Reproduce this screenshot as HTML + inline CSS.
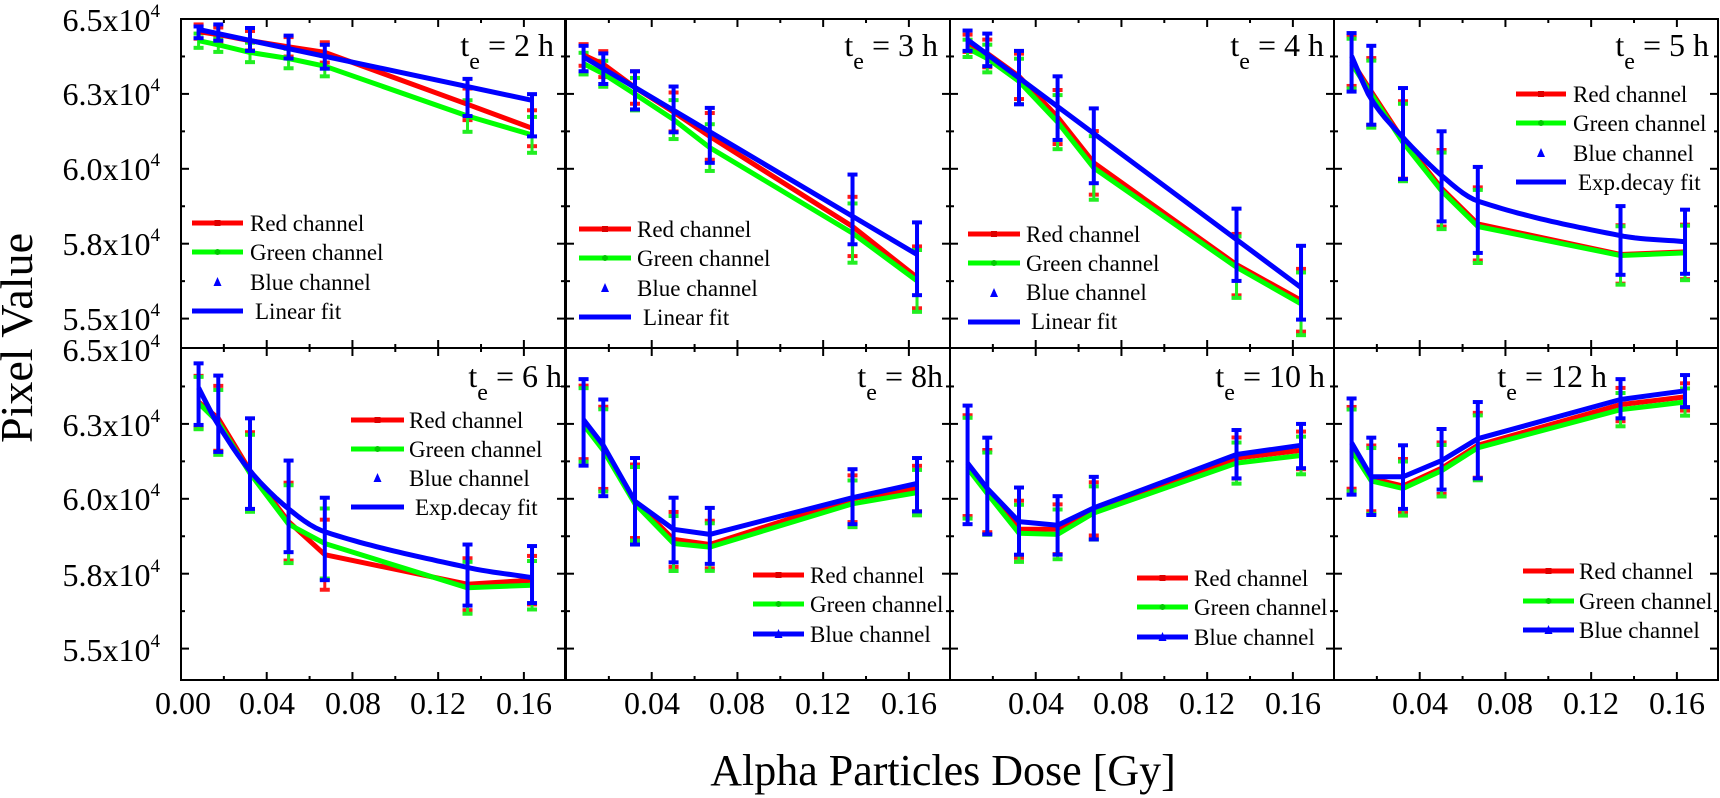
<!DOCTYPE html>
<html><head><meta charset="utf-8">
<style>
html,body{margin:0;padding:0;background:#fff;}
svg{display:block;}
text{font-family:"Liberation Serif","Times New Roman",serif;}
</style></head>
<body>
<svg id="s" width="1720" height="798" viewBox="0 0 1720 798" xmlns="http://www.w3.org/2000/svg" font-family="Liberation Serif, serif">
<g id="data"></g>
<g id="axes" stroke="#000" stroke-width="2" fill="none"></g>
<g font-size="32" fill="#000" text-anchor="end" font-family="Liberation Serif, serif">
<text x="160" y="31">6.5x10<tspan font-size="19" dy="-14">4</tspan></text>
<text x="160" y="105">6.3x10<tspan font-size="19" dy="-14">4</tspan></text>
<text x="160" y="180">6.0x10<tspan font-size="19" dy="-14">4</tspan></text>
<text x="160" y="255">5.8x10<tspan font-size="19" dy="-14">4</tspan></text>
<text x="160" y="330">5.5x10<tspan font-size="19" dy="-14">4</tspan></text>
<text x="160" y="361">6.5x10<tspan font-size="19" dy="-14">4</tspan></text>
<text x="160" y="436">6.3x10<tspan font-size="19" dy="-14">4</tspan></text>
<text x="160" y="510">6.0x10<tspan font-size="19" dy="-14">4</tspan></text>
<text x="160" y="586">5.8x10<tspan font-size="19" dy="-14">4</tspan></text>
<text x="160" y="661">5.5x10<tspan font-size="19" dy="-14">4</tspan></text>
</g>
<g font-size="32" fill="#000" text-anchor="middle" font-family="Liberation Serif, serif">
<text x="183" y="714">0.00</text><text x="267" y="714">0.04</text><text x="353" y="714">0.08</text><text x="438" y="714">0.12</text><text x="524" y="714">0.16</text>
<text x="652" y="714">0.04</text><text x="737" y="714">0.08</text><text x="823" y="714">0.12</text><text x="909" y="714">0.16</text>
<text x="1036" y="714">0.04</text><text x="1121" y="714">0.08</text><text x="1207" y="714">0.12</text><text x="1293" y="714">0.16</text>
<text x="1420" y="714">0.04</text><text x="1505" y="714">0.08</text><text x="1591" y="714">0.12</text><text x="1677" y="714">0.16</text>
</g>
<text x="943" y="785" font-size="44" text-anchor="middle" font-family="Liberation Serif, serif">Alpha Particles Dose [Gy]</text>
<text transform="translate(32,338) rotate(-90)" font-size="46" text-anchor="middle" font-family="Liberation Serif, serif">Pixel Value</text>
<g font-size="32" fill="#000" text-anchor="end" font-family="Liberation Serif, serif">
<text x="554" y="56">t<tspan font-size="24" dy="13">e</tspan><tspan dy="-13"> = 2 h</tspan></text>
<text x="938" y="56">t<tspan font-size="24" dy="13">e</tspan><tspan dy="-13"> = 3 h</tspan></text>
<text x="1324" y="56">t<tspan font-size="24" dy="13">e</tspan><tspan dy="-13"> = 4 h</tspan></text>
<text x="1709" y="56">t<tspan font-size="24" dy="13">e</tspan><tspan dy="-13"> = 5 h</tspan></text>
<text x="562" y="387">t<tspan font-size="24" dy="13">e</tspan><tspan dy="-13"> = 6 h</tspan></text>
<text x="943" y="387">t<tspan font-size="24" dy="13">e</tspan><tspan dy="-13"> = 8h</tspan></text>
<text x="1325" y="387">t<tspan font-size="24" dy="13">e</tspan><tspan dy="-13"> = 10 h</tspan></text>
<text x="1607" y="387">t<tspan font-size="24" dy="13">e</tspan><tspan dy="-13"> = 12 h</tspan></text>
</g>
<g id="leg"></g>
<g font-size="23" fill="#000" font-family="Liberation Serif, serif">
<text x="250" y="231">Red channel</text><text x="250" y="260">Green channel</text><text x="250" y="290">Blue channel</text><text x="255" y="319">Linear fit</text>
<text x="637" y="237">Red channel</text><text x="637" y="266">Green channel</text><text x="637" y="296">Blue channel</text><text x="643" y="325">Linear fit</text>
<text x="1026" y="242">Red channel</text><text x="1026" y="271">Green channel</text><text x="1026" y="300">Blue channel</text><text x="1031" y="329">Linear fit</text>
<text x="1573" y="102">Red channel</text><text x="1573" y="131">Green channel</text><text x="1573" y="161">Blue channel</text><text x="1578" y="190">Exp.decay fit</text>
<text x="409" y="428">Red channel</text><text x="409" y="457">Green channel</text><text x="409" y="486">Blue channel</text><text x="415" y="515">Exp.decay fit</text>
<text x="810" y="583">Red channel</text><text x="810" y="612">Green channel</text><text x="810" y="642">Blue channel</text>
<text x="1194" y="586">Red channel</text><text x="1194" y="615">Green channel</text><text x="1194" y="645">Blue channel</text>
<text x="1579" y="579">Red channel</text><text x="1579" y="609">Green channel</text><text x="1579" y="638">Blue channel</text>
</g>
</svg>
<script>
(function(){
var NS="http://www.w3.org/2000/svg";
function el(parent,name,attrs){var e=document.createElementNS(NS,name);for(var k in attrs)e.setAttribute(k,attrs[k]);parent.appendChild(e);return e;}
var L=[181,566,950,1334],W=384,T=[19,348],B=[348,680];
var axes=document.getElementById('axes');
var sx=2143;
for(var r=0;r<2;r++){
 for(var p=0;p<4;p++){
  var l=L[p],t=T[r],b=B[r],rt=l+W;
  el(axes,'rect',{x:l,y:t,width:W,height:b-t});
  for(var i=1;i<9;i++){var d=i*0.02,x=l+d*sx;if(x>rt-2)continue;var len=(i%2==0)?8:4;
   el(axes,'line',{x1:x,y1:b,x2:x,y2:b-len});el(axes,'line',{x1:x,y1:t,x2:x,y2:t+len});}
  for(var j=0;j<=9;j++){var v=65000-j*1250;var y=t+(65000-v)/10000*299.6+(r?1:0);if(y>b-2||j==0)continue;var len2=(j%2==0)?8:4;
   el(axes,'line',{x1:l,y1:y,x2:l+len2,y2:y});el(axes,'line',{x1:rt,y1:y,x2:rt-len2,y2:y});}
 }
}
var D=[0.0082,0.0174,0.0322,0.0502,0.0671,0.1337,0.1638];
var P=[
{p:0,red:[62,68,80,92,103,205,252],green:[80,88,103,115,130,228,265],fit:'lin',blue:[58,197],bl:[[52,75],[48,80],[55,100],[70,115],[88,135],[155,228],[185,268]]},
{p:1,red:[108,126,172,220,268,445,545],green:[125,145,185,235,290,458,552],fit:'lin',blue:[112,500],bl:[[90,140],[105,165],[140,215],[170,260],[212,320],[343,480],[437,580]]},
{p:2,red:[85,105,150,230,320,520,590],green:[95,115,160,240,330,525,597],fit:'lin',blue:[78,565],bl:[[60,100],[66,130],[100,205],[150,275],[213,360],[410,552],[483,628]]},
{p:3,red:[120,180,275,370,440,500,495],green:[125,185,280,375,445,502,497],fit:'curve',bc:[110,195,270,345,395,463,475],bl:[[65,180],[90,245],[173,352],[258,435],[328,497],[405,540],[412,538]]},
{p:0,red:[790,822,925,1025,1090,1148,1140],green:[792,830,930,1030,1068,1155,1150],fit:'curve',bc:[762,835,925,1000,1045,1115,1135],bl:[[714,835],[738,888],[822,1000],[905,1085],[978,1140],[1070,1190],[1073,1185]]},
{p:1,red:[830,880,985,1060,1070,980,960],green:[835,885,990,1068,1075,990,968],fit:'poly',bc:[825,875,985,1040,1050,978,950],bl:[[745,915],[785,975],[900,1070],[978,1105],[998,1108],[922,1030],[900,1005]]},
{p:2,red:[915,965,1040,1040,1000,900,885],green:[920,970,1048,1050,1008,910,895],fit:'poly',bc:[910,960,1025,1032,998,893,875],bl:[[797,1030],[860,1050],[958,1090],[975,1090],[937,1060],[845,940],[833,920]]},
{p:3,red:[880,940,955,920,875,795,780],green:[885,945,960,925,880,805,790],fit:'poly',bc:[870,937,937,905,862,785,768],bl:[[783,972],[860,1012],[875,1000],[843,962],[790,940],[745,822],[737,800]]}
];
var g=document.getElementById('data');
function Y(z){return z/1.965;}
function X(p,d){return L[p]+d*sx;}
function bar(x,y1,y2,col,w){el(g,'line',{x1:x,y1:y1,x2:x,y2:y2,stroke:col,'stroke-width':w});
 el(g,'line',{x1:x-5,y1:y1,x2:x+5,y2:y1,stroke:col,'stroke-width':4});el(g,'line',{x1:x-5,y1:y2,x2:x+5,y2:y2,stroke:col,'stroke-width':4});}
function poly(pts,col,w){el(g,'polyline',{points:pts.map(function(a){return a[0].toFixed(1)+','+a[1].toFixed(1)}).join(' '),fill:'none',stroke:col,'stroke-width':w,'stroke-linejoin':'round'});}
P.forEach(function(s){
 var p=s.p;
 for(var i=0;i<7;i++){var h=(s.bl[i][1]-s.bl[i][0])/2*0.85;if(h<14)h=14;var x=X(p,D[i]);
  bar(x,Y(s.red[i]-h),Y(s.red[i]+h),'#ff1a1a',3);
  bar(x,Y(s.green[i]-h),Y(s.green[i]+h),'#22ee22',3);}
 poly(s.red.map(function(v,i){return [X(p,D[i]),Y(v)]}),'#ff0000',5);
 poly(s.green.map(function(v,i){return [X(p,D[i]),Y(v)]}),'#00ff00',5);
 var bp;
 if(s.fit=='lin'){bp=[[X(p,D[0]),Y(s.blue[0])],[X(p,D[6]),Y(s.blue[1])]];}
 else if(s.fit=='curve'){bp=[];var a=s.bc;
  for(var k=0;k<=60;k++){var d=D[0]+(D[6]-D[0])*k/60;var j=0;while(j<5&&d>D[j+1])j++;
   var t=(d-D[j])/(D[j+1]-D[j]);var y0=a[j],y1=a[j+1];
   var m0=j>0?(a[j+1]-a[j-1])/(D[j+1]-D[j-1]):(a[1]-a[0])/(D[1]-D[0]);
   var m1=j<5?(a[j+2]-a[j])/(D[j+2]-D[j]):(a[6]-a[5])/(D[6]-D[5]);
   var hh=D[j+1]-D[j];var t2=t*t,t3=t2*t;
   var y=(2*t3-3*t2+1)*y0+(t3-2*t2+t)*hh*m0+(-2*t3+3*t2)*y1+(t3-t2)*hh*m1;
   bp.push([X(p,d),Y(y)]);}
 } else {bp=s.bc.map(function(v,i){return [X(p,D[i]),Y(v)]});}
 poly(bp,'#0000ff',5);
 for(var i=0;i<7;i++){var x=X(p,D[i]);bar(x,Y(s.bl[i][0]),Y(s.bl[i][1]),'#0000ff',4);}
});
var lg=document.getElementById('leg');
var LG=[[192,243,[223,252,282,311],4],[579,631,[229,258,288,317],4],[968,1020,[234,263,293,322],4],[1516,1566,[94,123,153,182],4],
[351,404,[420,449,478,507],4],[753,804,[575,604,634],3],[1137,1188,[578,607,637],3],[1523,1574,[571,601,630],3]];
LG.forEach(function(q){var x1=q[0],x2=q[1],ys=q[2],n=q[3],xm=(x1+x2)/2;
 el(lg,'line',{x1:x1,y1:ys[0],x2:x2,y2:ys[0],stroke:'#ff0000','stroke-width':5});
 el(lg,'rect',{x:xm-3,y:ys[0]-3,width:6,height:6,fill:'#dd0000'});
 el(lg,'line',{x1:x1,y1:ys[1],x2:x2,y2:ys[1],stroke:'#00ff00','stroke-width':5});
 el(lg,'circle',{cx:xm,cy:ys[1],r:3,fill:'#00cc00'});
 if(n==4){el(lg,'polygon',{points:(xm-4)+','+(ys[2]+4)+' '+(xm+4)+','+(ys[2]+4)+' '+xm+','+(ys[2]-5),fill:'#0000ff'});
  el(lg,'line',{x1:x1,y1:ys[3],x2:x2,y2:ys[3],stroke:'#0000ff','stroke-width':5});}
 else{el(lg,'line',{x1:x1,y1:ys[2],x2:x2,y2:ys[2],stroke:'#0000ff','stroke-width':5});
  el(lg,'polygon',{points:(xm-4)+','+(ys[2]+4)+' '+(xm+4)+','+(ys[2]+4)+' '+xm+','+(ys[2]-5),fill:'#0000ff'});}
});
})();
</script>
</body></html>
